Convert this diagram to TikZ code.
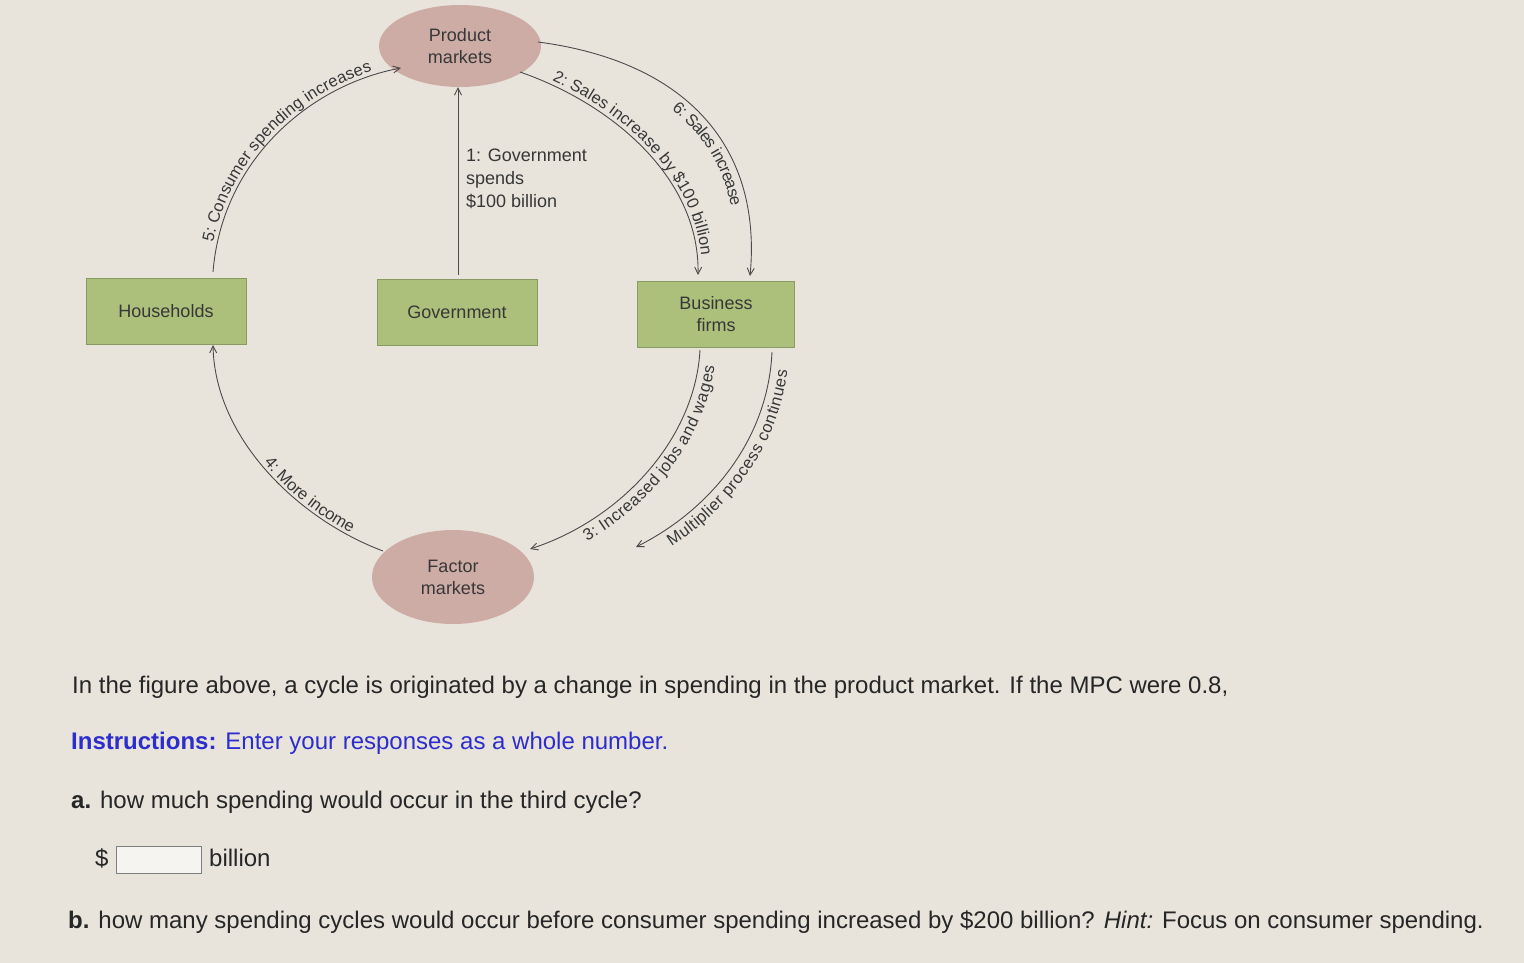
\documentclass[tikz,border=0pt]{standalone}
\usepackage{fontspec}
\setmainfont{Liberation Sans}
\usetikzlibrary{decorations.text,arrows.meta,shapes.geometric}
\definecolor{bg}{RGB}{232,228,220}
\definecolor{boxg}{RGB}{172,192,124}
\definecolor{pinkm}{RGB}{206,172,166}
\definecolor{ink}{RGB}{55,55,55}
\definecolor{instr}{RGB}{45,45,205}
\newcommand{\cf}{\fontsize{16.5}{18}\selectfont}
\tikzset{
 gbox/.style={fill=boxg,draw=boxg!80!black,line width=0.3pt,minimum width=160pt,minimum height=66pt,inner sep=0pt,font=\fontsize{18}{22}\selectfont,text=ink,align=center},
 flow/.style={draw=ink!90,line width=0.9pt,-{Straight Barb[length=7pt,width=7pt]}},
 body/.style={anchor=base west,inner sep=0pt,font=\fontsize{24}{28}\selectfont,text=black!85},
 alongtxt/.style={decorate,decoration={text along path,text color=ink,text align=center,text={#1}}}
}
\begin{document}
\begin{tikzpicture}[x=1pt,y=-1pt]
\fill[bg] (0,0) rectangle (1524,963);
\useasboundingbox (0,0) rectangle (1524,963);
\node[ellipse,fill=pinkm,minimum width=162pt,minimum height=82pt] (pm) at (460,46) {};
\node[font=\fontsize{18}{22}\selectfont,text=ink,align=center] at (pm) {Product\\markets};
\node[ellipse,fill=pinkm,minimum width=162pt,minimum height=94pt] (fm) at (453,577) {};
\node[font=\fontsize{18}{22}\selectfont,text=ink,align=center] at (fm) {Factor\\markets};
\node[gbox] (hh) at (166,311) {Households};
\node[gbox] (gov) at (457,312) {Government};
\node[gbox,minimum width=157pt] (bf) at (716,314) {Business\\firms};
% 1
\draw[flow] (gov.north) ++(1,-4) coordinate (g1) -- (pm.south -| g1);
\node[anchor=north west,align=left,font=\fontsize{18}{23}\selectfont,text=ink,inner sep=0pt] (l1) at (466,149) {1: Government\\spends\\\$100 billion};
% 5
\coordinate (a5) at (213,272); \coordinate (b5) at (401,68);
\draw[flow] (a5) .. controls (222,160) and (310,85) .. (b5);
\path[alongtxt={|\cf|5: Consumer spending increases},decoration={raise=4pt}] (a5) .. controls (222,160) and (310,85) .. (b5);
% 2
\coordinate (a2) at (520,72); \coordinate (b2) at (698,275);
\draw[flow] (a2) .. controls (615,105) and (700,180) .. (b2);
\path[alongtxt={|\cf|2: Sales increase by {\$}100 billion},decoration={raise=4pt,text align={left indent=14pt}}] (a2) .. controls (615,105) and (700,180) .. (b2);
% 6
\coordinate (a6) at (538,42); \coordinate (b6) at (750,276);
\draw[flow] (a6) .. controls (690,62) and (762,150) .. (b6);
\path[alongtxt={|\cf|6: Sales increase},decoration={raise=-16pt,text align={left indent=82pt}}] (a6) .. controls (690,62) and (762,150) .. (b6);
% 3
\coordinate (a3) at (700,350); \coordinate (b3) at (530,549);
\draw[flow] (a3) .. controls (695,440) and (620,520) .. (b3);
\path[alongtxt={|\cf|3: Increased jobs and wages},decoration={raise=-16pt,text align={left indent=40pt}}] (b3) .. controls (620,520) and (695,440) .. (a3);
% multiplier
\coordinate (a7) at (772,352); \coordinate (b7) at (636,547);
\draw[flow] (a7) .. controls (768,440) and (710,510) .. (b7);
\path[alongtxt={|\cf|Multiplier process continues},decoration={raise=-17pt,text align={left indent=14pt}}] (b7) .. controls (710,510) and (768,440) .. (a7);
% 4
\coordinate (a4) at (383,551); \coordinate (b4) at (213,345);
\draw[flow] (a4) .. controls (300,520) and (215,440) .. (b4);
\path[alongtxt={|\cf|4: More income},decoration={raise=3pt,text align={left indent=95pt}}] (b4) .. controls (215,440) and (300,520) .. (a4);
% text
\node[body] (t1) at (72,693) {In the figure above, a cycle is originated by a change in spending in the product market. If the MPC were 0.8,};
\node[body,text=instr] (t2) at (71,749) {\textbf{Instructions:} Enter your responses as a whole number.};
\node[body] (t3) at (71,808) {\textbf{a.} how much spending would occur in the third cycle?};
\node[body] (t4) at (95,866) {\$};
\node[draw=black!50,fill=white!60!bg,minimum width=85pt,minimum height=27pt,inner sep=0pt] (ans) at (158.5,859.5) {};
\node[body] (t5) at (209,866) {billion};
\node[body] (t6) at (68,928) {\textbf{b.} how many spending cycles would occur before consumer spending increased by \$200 billion? \textit{Hint:} Focus on consumer spending.};
\end{tikzpicture}
\end{document}
